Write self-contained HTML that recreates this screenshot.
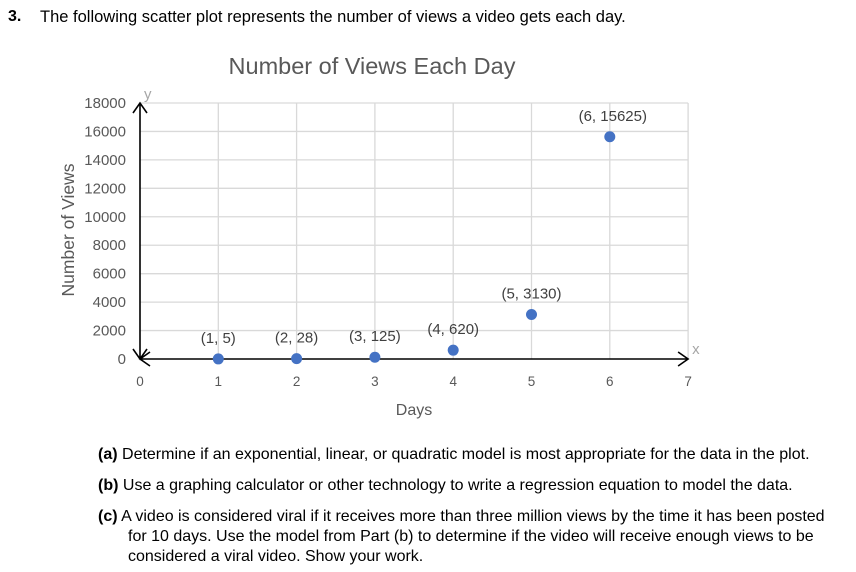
<!DOCTYPE html>
<html><head><meta charset="utf-8"><style>
body{margin:0;width:856px;height:572px;background:#fff;font-family:"Liberation Sans",Arial,sans-serif;position:relative;overflow:hidden}
.q{position:absolute;font-size:16px;color:#000;white-space:nowrap}
.b{font-weight:bold}
</style></head><body>
<div class="q" style="left:8px;top:8px"><span class="b">3.</span></div>
<div class="q" style="left:40px;top:8px;font-size:16.5px">The following scatter plot represents the number of views a video gets each day.</div>
<svg id="chart" width="856" height="430" style="position:absolute;left:0;top:0" font-family="Liberation Sans, sans-serif"></svg>
<div class="q" style="left:98px;top:446px"><span class="b">(a)</span> Determine if an exponential, linear, or quadratic model is most appropriate for the data in the plot.</div>
<div class="q" style="left:98px;top:477px"><span class="b">(b)</span> Use a graphing calculator or other technology to write a regression equation to model the data.</div>
<div class="q" style="left:98px;top:507px;line-height:20px"><span class="b">(c)</span> A video is considered viral if it receives more than three million views by the time it has been posted<br><span style="padding-left:30px">for 10 days. Use the model from Part (b) to determine if the video will receive enough views to be</span><br><span style="padding-left:30px">considered a viral video. Show your work.</span></div>
<script>
const days=[1,2,3,4,5,6];
const views=[5,28,125,620,3130,15625];
const xTicks=[0,1,2,3,4,5,6,7];
const yTicks=[0,2000,4000,6000,8000,10000,12000,14000,16000,18000];
const NS="http://www.w3.org/2000/svg";
const svg=document.getElementById('chart');
const X0=140,XU=78.3,Y0=359,YS=256/18000;
function sx(v){return X0+v*XU}
function sy(v){return Y0-v*YS}
function el(t,a,txt){const e=document.createElementNS(NS,t);for(const k in a)e.setAttribute(k,a[k]);if(txt!==undefined)e.textContent=txt;svg.appendChild(e);return e}
const t=el('text',{x:372,y:74,'text-anchor':'middle','font-size':23.5,fill:'#595959'},'Number of Views Each Day');


yTicks.forEach(v=>{if(v>0){const l=el('line',{x1:sx(0),x2:sx(7),y1:sy(v),y2:sy(v),stroke:'#d9d9d9','stroke-width':1.3});

}
const tx=el('text',{x:126,y:sy(v)+5,'text-anchor':'end','font-size':15,fill:'#595959'},v);

});
xTicks.forEach(v=>{if(v>0){const l=el('line',{x1:sx(v),x2:sx(v),y1:sy(18000),y2:sy(0),stroke:'#d9d9d9','stroke-width':1.3});

}
const tx=el('text',{x:sx(v),y:386,'text-anchor':'middle','font-size':13.5,fill:'#595959'},v);

});
const ax=el('path',{d:`M${sx(0)} ${Y0}H${sx(7)} M${sx(7)-10} ${Y0-7}L${sx(7)} ${Y0}L${sx(7)-10} ${Y0+7} M${sx(0)} ${Y0}V${sy(18000)} M${sx(0)-7} ${sy(18000)+10}L${sx(0)} ${sy(18000)}L${sx(0)+7} ${sy(18000)+10} M${sx(0)+10} ${Y0-7}L${sx(0)} ${Y0}L${sx(0)+10} ${Y0+7} M${sx(0)-7} ${Y0-10}L${sx(0)} ${Y0}L${sx(0)+7} ${Y0-10}`,stroke:'#000','stroke-width':1.6,fill:'none'});


const xl=el('text',{x:sx(7)+4,y:Y0-5,'font-size':15,fill:'#a6a6a6'},'x');


const yl=el('text',{x:sx(0)+4,y:sy(18000)-4,'font-size':15,fill:'#a6a6a6'},'y');


const xt=el('text',{x:414,y:415,'text-anchor':'middle','font-size':16,fill:'#595959'},'Days');


const yt=el('text',{x:0,y:0,'text-anchor':'middle','font-size':17.5,fill:'#595959',transform:'translate(74,230) rotate(-90)'},'Number of Views');


days.forEach((d,i)=>{const c=el('circle',{cx:sx(d),cy:sy(views[i]),r:5.5,fill:'#4472c4'});


const lb=el('text',{x:sx(d)+(d===6?3:0),y:sy(views[i])-16,'text-anchor':'middle','font-size':15,fill:'#404040'},`(${d}, ${views[i]})`);

});
</script>
</body></html>
